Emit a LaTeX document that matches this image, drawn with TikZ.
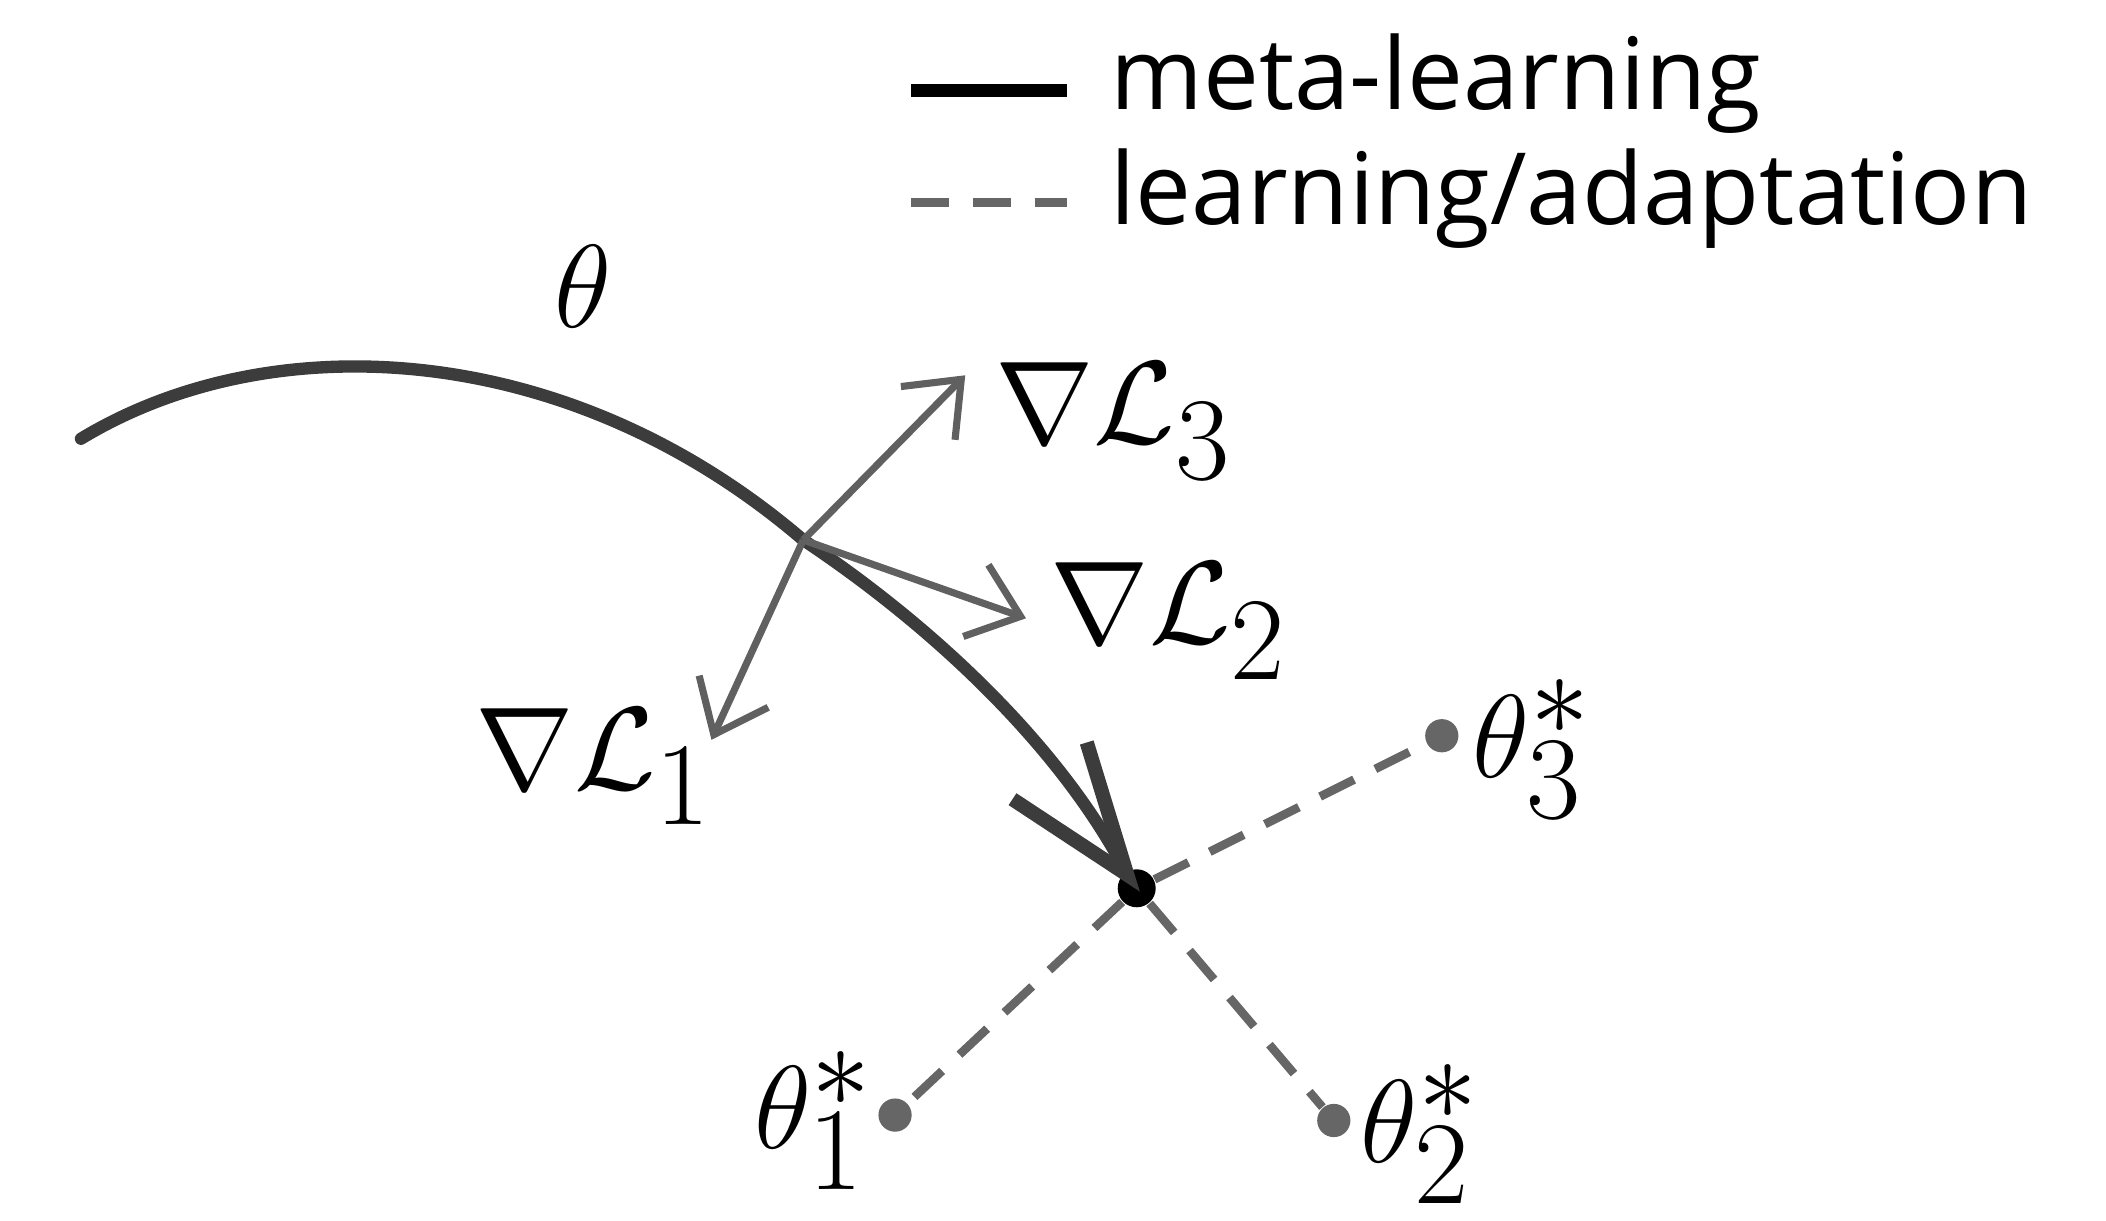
\documentclass[tikz,border=0pt]{standalone}
\usepackage{fontspec}
\setsansfont{Open Sans}
\usetikzlibrary{arrows.meta}
\definecolor{metacol}{HTML}{3C3C3C}
\definecolor{gradcol}{HTML}{606060}
\definecolor{dashcol}{HTML}{666666}
\tikzset{
 metaline/.style={metacol,line width=2.6pt,line cap=round},
 gradarrow/.style={gradcol,line width=1.5pt,-{Straight Barb[length=10pt,width=16pt,line width=1.5pt]}},
 adapt/.style={dashcol,line width=1.8pt,dash pattern=on 8pt off 5pt},
 lbl/.style={inner sep=0pt,font=\fontsize{34}{40}\selectfont},
 leg/.style={inner sep=0pt,anchor=west,font=\sffamily\fontsize{21}{26}\selectfont},
 pdot/.style={circle,fill=dashcol,inner sep=0pt,minimum size=7pt},
}
\begin{document}
\begin{tikzpicture}[x=0.01cm,y=-0.01cm]
\useasboundingbox (0,0) rectangle (1560,904);
% legend
\coordinate (l1a) at (675,67); \coordinate (l1b) at (790,67);
\draw[black,line width=2.8pt] (l1a) -- (l1b);
\node[leg] (t1) at (822,62) {meta-learning};
\coordinate (l2a) at (675,150); \coordinate (l2b) at (790,150);
\draw[adapt] (l2a) -- (l2b);
\node[leg] (t2) at (822,147) {learning/adaptation};
% theta
\node[inner sep=0pt,font=\fontsize{100}{110}\selectfont] (th) at (432,212) {$\theta$};
% meta path
\coordinate (s) at (60,325);
\coordinate (P) at (595,400);
\node[circle,fill=black,inner sep=0pt,minimum size=8pt] (c) at (842,658) {};
\draw[metaline] (s) .. controls (200,240) and (420,250) .. (P) .. controls (700,470) and (790,560) .. (835,648);
\coordinate (h1) at (805,550); \coordinate (h2) at (750,592); \coordinate (tip) at (835,648);
\draw[metaline,line width=3pt,line cap=butt,line join=miter] (h1) -- (tip) -- (h2);
% gradients
\coordinate (g3) at (715,278); \coordinate (g2) at (760,458); \coordinate (g1) at (527,548);
\draw[gradarrow] (P) -- (g3);
\draw[gradarrow] (P) -- (g2);
\draw[gradarrow] (P) -- (g1);
\node[lbl] (L3) at (825,312) {$\nabla\mathcal{L}_3$};
\node[lbl] (L2) at (866,460) {$\nabla\mathcal{L}_2$};
\node[lbl] (L1) at (440,568) {$\nabla\mathcal{L}_1$};
% adaptation
\node[pdot] (p3) at (1068,545) {};
\node[pdot] (p1) at (663,826) {};
\node[pdot] (p2) at (988,830) {};
\draw[adapt] (c) -- (p3);
\draw[adapt] (c) -- (p1);
\draw[adapt] (c) -- (p2);
\node[lbl] (T3) at (1135,555) {$\theta^*_3$};
\node[lbl] (T1) at (603,830) {$\theta^*_1$};
\node[lbl] (T2) at (1052,840) {$\theta^*_2$};
\end{tikzpicture}
\end{document}
